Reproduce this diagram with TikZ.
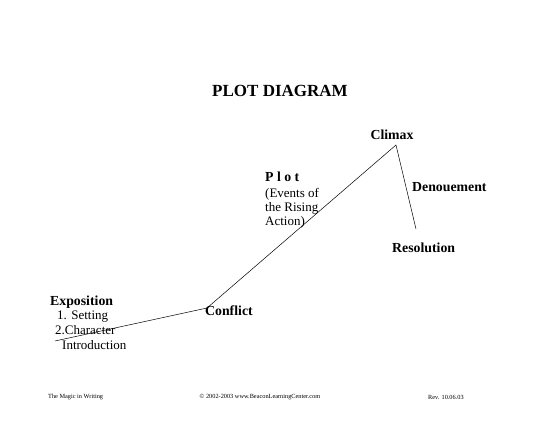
\documentclass[tikz,border=0pt]{standalone}
\usepackage{fontspec}
\setmainfont{Liberation Serif}
\usetikzlibrary{positioning}

\begin{document}
\begin{tikzpicture}[x=1pt,y=-1pt,
head/.style={font=\bfseries\fontsize{13.8}{15}\selectfont, inner sep=0pt},
txt/.style={font=\fontsize{13}{14.3}\selectfont, inner sep=0pt, align=left},
foot/.style={font=\fontsize{6.3}{8}\selectfont, inner sep=0pt}]
\useasboundingbox (0,0) rectangle (560,433);
\node[font=\bfseries\fontsize{17}{20}\selectfont, inner sep=0pt] (title) at (280,91) {PLOT DIAGRAM};
% the plot line
\coordinate (start) at (55,341);
\coordinate (conflict) at (207,308);
\coordinate (climax) at (396,145);
\coordinate (resol) at (416,229);
\draw[line width=0.5pt] (start) -- (conflict) -- (climax) -- (resol);
% labels
\node[head] (climaxlbl) at (392,135) {Climax};
\node[head, anchor=west] (denou) at (412,187) {Denouement};
\node[head, anchor=west] (resollbl) at (392,248) {Resolution};
\node[head, anchor=west] (conflbl) at (205,311) {Conflict};
\node[head, anchor=base west] (expo) at (50,305) {Exposition};
\node[txt, anchor=north west, font=\fontsize{13}{14.8}\selectfont] (expolist) at (55,311) {\hspace*{2pt}1. Setting\\2.Character\\\hspace*{7pt}Introduction};
\node[head, anchor=west] (plot) at (265,177) {P l o t};
\node[txt, anchor=north west] (rising) at (265,188) {(Events of\\the Rising\\Action)};
% footer
\node[foot, anchor=west] (footl) at (48,397) {The Magic in Writing};
\node[foot] (footc) at (260,397) {\textcopyright{} 2002-2003 www.BeaconLearningCenter.com};
\node[foot, anchor=west] (footr) at (428,397) {Rev. 10.06.03};
\end{tikzpicture}
\end{document}
